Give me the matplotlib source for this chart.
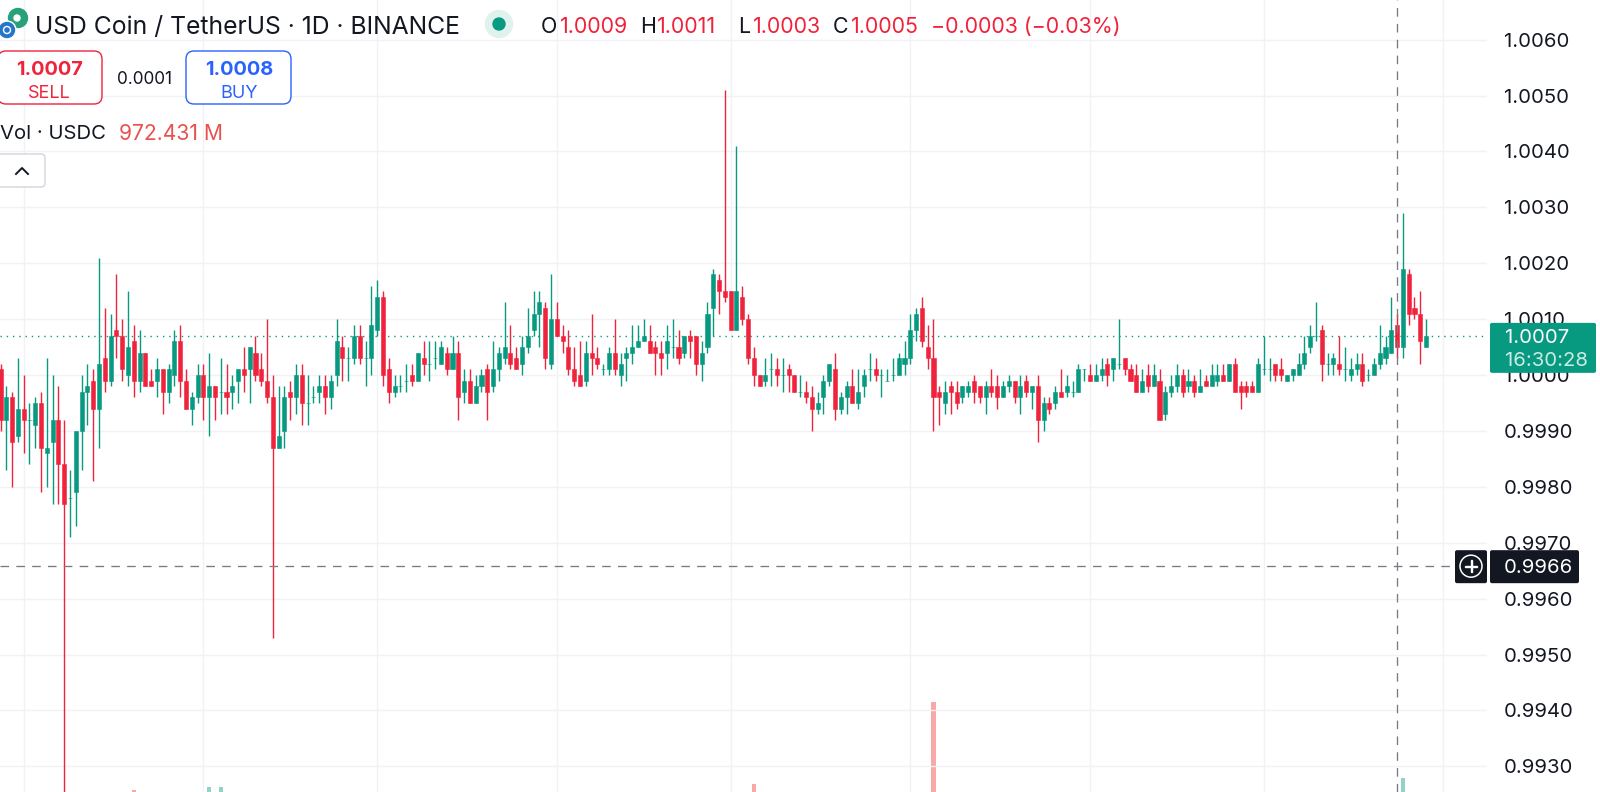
import matplotlib
matplotlib.use("Agg")
import matplotlib.pyplot as plt
from matplotlib.lines import Line2D
from matplotlib.patches import FancyBboxPatch, Rectangle, Circle

plt.rcParams['font.family'] = ['Inter', 'DejaVu Sans']

# Prices are offsets from 1.0000 in units of 0.0001
opens = [1,-8,-4,-11,-6,-8,-9,-5,-14,-12, -8,-16,-22,-21,-10,-3,-1,-6,3,-1,
         8,7,0,6,-1,4,-1,-1,1,-3, 0,6,-1,-6,-4,0,-4,-2,-3,-3,
         -3,-1,1,1,4,1,-1,-4,-13,-10, -3,-4,0,-5,-4,-3,-2,-4,0,5,
         3,3,7,3,3,8,14,1,-3,-2, -1,0,-1,3,2,3,2,4,1,4,
         -3,-1,-5,-2,1,-2,1,3,4,3, 2,5,8,11,12,2,10,7,5,1,
         0,-1,4,3,1,1,4,0,3,4, 5,6,6,5,4,4,5,5,4,7,
         7,2,5,12,17,15,15,8,14,10, 3,0,-1,1,1,0,1,0,-3,-3,
         -4,-6,-4,-1,1,-6,-4,-2,-5,-2, 1,1,0,-1,0,0,2,3,8,12,
         5,3,-3,-5,-2,-3,-4,-3,-1,-2, -4,-2,-2,-4,-2,-1,-4,-1,-3,-2,
         -8,-5,-5,-3,-3,-3,-3,1,0,-1, 0,2,1,2,3,1,0,-3,0,-2,
         -1,-7,-3,-2,0,-2,-1,-3,-1,-2, -1,0,-1,2,-2,-2,-2,-3,1,1,
         2,1,-1,0,0,2,5,7,8,2, 2,2,1,0,1,2,0,0,2,3,
         4,9,5,18,12,11,5]
closes = [-8,-4,-12,-6,-8,-8,-5,-13,-13,-8, -16,-23,-22,-10,-3,-2,-6,2,-1,7,
          7,1,5,-1,4,-2,-2,1,-3,1, 6,-1,-6,-4,0,-4,-2,-4,-3,-4,
          -2,1,0,5,0,-1,-4,-13,-11,-4, -4,0,-5,-5,-4,-2,-4,-1,6,3,
          3,7,3,3,9,14,0,-3,-2,-2, -1,-1,4,2,2,3,5,1,4,-4,
          -1,-5,-2,0,-3,1,4,5,2,1, 5,7,11,13,3,10,7,6,1,-1,
          -2,4,3,2,1,4,1,2,4,5, 6,7,4,4,3,6,5,3,7,6,
          2,4,11,18,15,14,8,15,10,3, 0,-2,0,1,0,0,0,-3,-3,-4,
          -6,-5,-1,2,-6,-4,-2,-5,-3,0, 1,0,0,-1,0,3,3,8,11,6,
          3,-4,-4,-3,-3,-5,-2,-2,-3,-4, -2,-3,-4,-2,-1,-4,-2,-3,-2,-8,
          -5,-6,-3,-4,-2,-3,1,1,-1,0, 1,0,3,2,1,-1,-3,-1,-2,0,
          -8,-3,-2,0,-3,-1,-3,-2,-2,0, 0,-1,2,-3,-3,-3,-3,2,1,1,
          0,0,0,1,2,4,7,7,2,2, 3,1,1,1,2,-1,0,2,4,5,
          8,5,19,11,11,6,7]
highs = [2,-2,-3,3,0,-5,-4,-3,3,0, -2,-8,-17,-10,0,2,1,21,12,11,
         18,10,15,9,8,4,1,3,1,2, 8,9,1,-3,2,2,4,-2,3,2,
         0,1,5,5,7,4,10,0,-2,-2, -1,2,2,0,-2,0,0,0,10,7,
         5,9,9,6,16,17,15,3,0,0, 2,2,4,6,6,6,6,5,7,6,
         1,1,0,1,2,6,5,13,9,5, 7,12,15,15,13,18,13,9,8,5,
         6,6,11,5,2,5,10,4,5,9, 9,10,9,6,6,9,10,8,7,8,
         7,6,13,19,18,51,15,41,16,11, 5,0,3,4,3,3,2,0,0,-1,
         -2,-3,0,2,4,-3,-1,1,1,1, 4,3,1,1,3,4,6,11,12,14,
         9,10,-2,-1,-1,-1,-2,-1,0,-2, -1,1,0,-1,0,-1,0,0,-2,0,
         -4,-4,-2,1,0,-1,2,1,2,2, 3,3,3,10,3,2,2,1,2,2,
         1,-2,0,2,1,1,0,1,0,2, 2,2,2,3,-1,-1,-1,3,7,3,
         2,3,0,1,4,7,9,13,9,4, 4,7,5,3,4,4,1,3,9,7,
         14,11,29,19,14,15,10]
lows = [-10,-17,-20,-12,-14,-16,-13,-21,-20,-23, -23,-80,-29,-27,-17,-9,-19,-13,-3,-2,
        3,-1,-2,-4,-3,-2,-2,-4,-7,-5, -2,-4,-6,-9,-5,-8,-11,-8,-7,-7,
        -6,-5,-3,-5,-1,-2,-5,-47,-13,-13, -8,-7,-9,-9,-5,-5,-7,-6,-2,-1,
        -1,2,2,-2,0,7,-2,-5,-4,-3, -3,-2,-1,0,-1,1,2,0,1,-8,
        -5,-5,-5,-3,-8,-3,-1,2,1,1, 0,4,7,5,1,1,7,4,0,-2,
        -2,-2,0,1,0,0,0,-2,-1,2, 5,6,4,0,0,1,3,2,3,3,
        0,-1,4,7,11,13,8,8,9,2, -2,-2,-2,-2,-2,-3,-3,-3,-4,-5,
        -10,-7,-7,-2,-8,-7,-7,-5,-6,-4, -1,-1,-4,-1,-1,0,0,2,6,5,
        1,-10,-9,-7,-7,-6,-5,-4,-5,-5, -7,-4,-6,-4,-3,-5,-7,-4,-6,-12,
        -10,-7,-6,-4,-4,-4,-3,-1,-1,-1, -1,-2,-1,1,0,-1,-3,-3,-3,-2,
        -8,-8,-4,-3,-4,-3,-4,-3,-2,-2, -2,-1,-1,-3,-6,-4,-3,-3,0,-1,
        -1,-1,-1,-1,0,1,4,6,-1,0, 0,0,-1,-1,0,-2,-1,0,1,2,
        4,3,3,9,10,2,5]

# Only the tops of a few volume bars show above the bottom edge (visible part, M)
volume_index = [23, 36, 38, 130, 161, 242]
volume_visible = [20, 50, 50, 80, 900, 140]

y_ticks = [1.0060, 1.0050, 1.0040, 1.0030, 1.0020, 1.0010, 1.0000,
           0.9990, 0.9980, 0.9970, 0.9960, 0.9950, 0.9940, 0.9930]
month_starts = [4, 35, 65, 96, 126, 157, 188, 218, 249]
last_price = 1.0007
cross_price = 0.99658
cross_index = 241

GREEN = '#089981'
RED = '#F0233C'
GRID = '#F0F2F5'
INK = '#131722'
W, H = 1600, 792
STEP = 5.795          # px per candle
PLOT_R = 1487         # px, left edge of the price scale
PX_PER_UNIT = 5.59    # px per 0.0001
ZERO_Y = 375          # px of price 1.0000


def price(v):
    return 1 + v / 10000


o = [price(v) for v in opens]
c = [price(v) for v in closes]
hi = [price(v) for v in highs]
lo = [price(v) for v in lows]
x = list(range(len(o)))
col = [GREEN if b >= a else RED for a, b in zip(o, c)]

fig = plt.figure(figsize=(W / 100, H / 100), dpi=100, facecolor='white')
ax = fig.add_axes([0, 0, PLOT_R / W, 1])

ax2 = ax.twinx()
ax2.set_ylim(0, H * 10)
ax2.axis('off')
ax2.bar(volume_index, volume_visible, width=0.72, linewidth=0,
        color=['#93D2C8' if col[i] == GREEN else '#F7A9A7' for i in volume_index])
ax.set_zorder(ax2.get_zorder() + 1)

ax.set_xlim(-0.5 / STEP, (PLOT_R - 0.5) / STEP)
ax.set_ylim(price(-(H - ZERO_Y) / PX_PER_UNIT), price(ZERO_Y / PX_PER_UNIT))
ax.patch.set_visible(False)
for s in ax.spines.values():
    s.set_visible(False)
ax.yaxis.tick_right()
ax.set_yticks(y_ticks, [f'{t:.4f}' for t in y_ticks])
ax.tick_params(axis='y', length=0, pad=12.3, labelsize=14.6, labelcolor=INK,
               left=False, right=False, labelleft=False, labelright=True)
ax.set_xticks(month_starts, [''] * len(month_starts))
ax.tick_params(axis='x', length=0)
ax.grid(True, color=GRID, lw=1.0, zorder=0)
ax.set_axisbelow(True)

ax.vlines(x, lo, hi, colors=col, lw=1.0, zorder=3)
ax.bar(x, [abs(a - b) for a, b in zip(o, c)], bottom=[min(a, b) for a, b in zip(o, c)],
       width=0.7, color=col, edgecolor=col, linewidth=0.4, zorder=4)

ax.axhline(last_price, color=GREEN, lw=1.0, ls=(0, (1, 3.5)), zorder=2)
ax.axhline(cross_price, color='#787B86', lw=0.95, ls=(0, (6.5, 5.5)), zorder=5)
ax.axvline(cross_index, color='#787B86', lw=0.95, ls=(0, (6.5, 5.5)), zorder=5)


def fx(px):
    return px / W


def fy(py):
    return 1 - py / H


def text(px, py, s, color=INK, size=15.4, ha='left', weight='normal'):
    fig.text(fx(px), fy(py), s, color=color, fontsize=size, ha=ha, va='center_baseline',
             fontweight=weight)


def box(x0, y0, x1, y1, face, edge='none', r=4, lw=1.0, z=2):
    fig.add_artist(FancyBboxPatch((x0, H - y1), x1 - x0, y1 - y0,
                                  boxstyle=f'round,pad=0,rounding_size={r}',
                                  transform=None, facecolor=face, edgecolor=edge,
                                  linewidth=lw, zorder=z))


# Header
fig.add_artist(Circle((18, H - 18), 9.5, transform=None, color='#26A17B', zorder=2))
fig.add_artist(Circle((17, H - 18), 3, transform=None, color='white', zorder=2))
fig.add_artist(Circle((7, H - 30), 9, transform=None, color='white', zorder=2))
fig.add_artist(Circle((7, H - 30), 7.5, transform=None, color='#2775CA', zorder=2))
fig.add_artist(Circle((7, H - 30), 3.5, transform=None, facecolor='none', edgecolor='white',
                      linewidth=1, zorder=2))
text(35, 25, 'USD Coin / TetherUS · 1D · BINANCE', size=17.8)
fig.add_artist(Circle((499, H - 24), 13.5, transform=None, color='#E0F2EE', zorder=2))
fig.add_artist(Circle((499, H - 24), 6, transform=None, color=GREEN, zorder=2))

text(541, 25, 'O')
text(560, 25, '1.0009', RED)
text(640, 25, 'H')
text(657, 25, '1.0011', RED)
text(738, 25, 'L')
text(753, 25, '1.0003', RED)
text(833, 25, 'C')
text(851, 25, '1.0005', RED)
text(931, 25, '−0.0003 (−0.03%)', RED)

# Sell / buy
box(-2, 51, 102, 104, 'white', RED, r=8, lw=1.0)
box(186, 51, 291, 104, 'white', '#2962FF', r=8, lw=1.0)
text(50, 68, '1.0007', RED, 14.4, 'center', 'bold')
text(49, 91, 'SELL', RED, 13, 'center')
text(144, 78, '0.0001', INK, 12.4, 'center')
text(239, 68, '1.0008', '#2962FF', 14.4, 'center', 'bold')
text(239, 91, 'BUY', '#2962FF', 13, 'center')

text(0, 132, 'Vol · USDC', INK, 14.6)
text(119, 132, '972.431 M', '#E8524E', 15.2)

box(-3, 154, 45, 187, 'white', '#D1D4DC', r=4, lw=1.0)
fig.add_artist(Line2D([16, 22, 28], [H - 174, H - 168, H - 174], transform=None,
                      color=INK, lw=1.4, zorder=3))

# Price scale labels
last_y = ZERO_Y - (last_price - 1) * 10000 * PX_PER_UNIT
box(1490, last_y - 13, 1596, last_y + 37, GREEN, r=2)
text(1505, last_y + 0, f'{last_price:.4f}', 'white', 14.6)
text(1505, last_y + 23, '16:30:28', '#CDEBE5', 14.6)

cross_y = ZERO_Y - (cross_price - 1) * 10000 * PX_PER_UNIT
box(1455, cross_y - 16, 1487, cross_y + 17, '#131722', r=2)
box(1490, cross_y - 16, 1579, cross_y + 17, '#131722', r=2)
fig.add_artist(Circle((1471, H - cross_y), 11, transform=None, facecolor='none',
                      edgecolor='white', linewidth=1.1, zorder=3))
fig.add_artist(Rectangle((1465, H - cross_y - 0.5), 12, 1, transform=None, color='white', zorder=3))
fig.add_artist(Rectangle((1470.5, H - cross_y - 6), 1, 12, transform=None, color='white', zorder=3))
text(1504, cross_y, f'{round(cross_price, 4):.4f}', 'white', 14.6)

fig.savefig('out.png', dpi=100)
